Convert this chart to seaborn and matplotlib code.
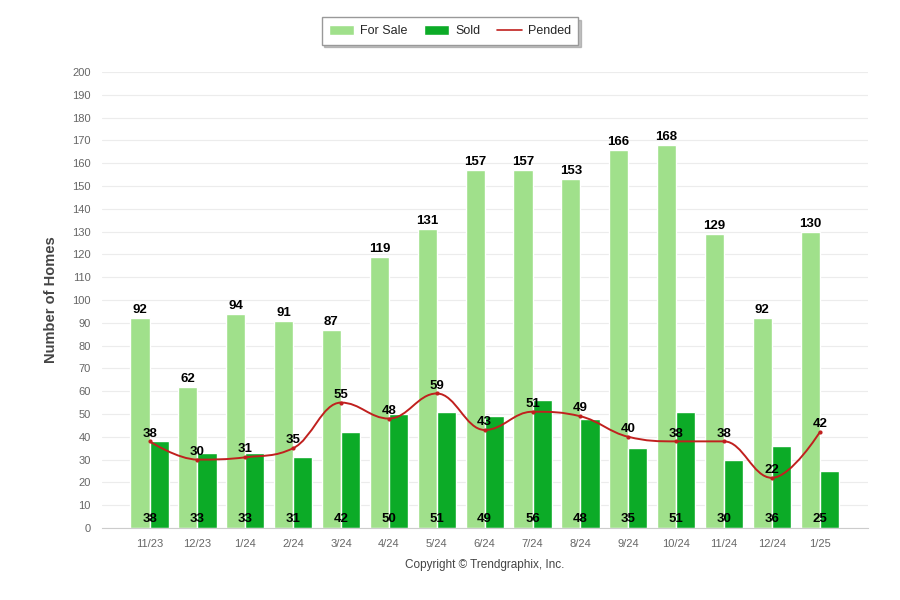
import numpy as np
import pandas as pd
import seaborn as sns
import matplotlib.pyplot as plt
from matplotlib.path import Path
from matplotlib.patches import PathPatch
from matplotlib.lines import Line2D
from matplotlib.patches import Patch

months = ["11/23", "12/23", "1/24", "2/24", "3/24", "4/24", "5/24", "6/24",
          "7/24", "8/24", "9/24", "10/24", "11/24", "12/24", "1/25"]
for_sale = [92, 62, 94, 91, 87, 119, 131, 157, 157, 153, 166, 168, 129, 92, 130]
sold = [38, 33, 33, 31, 42, 50, 51, 49, 56, 48, 35, 51, 30, 36, 25]
pended = [38, 30, 31, 35, 55, 48, 59, 43, 51, 49, 40, 38, 38, 22, 42]

C_SALE = "#a0e08b"
C_SOLD = "#0cab27"
C_PEND = "#c0201e"


def spline_path(xs, ys, smoothing=1.5):
    # bezier spline through the points (same idea as a "spline" series)
    n = len(xs)
    left = [(xs[i], ys[i]) for i in range(n)]
    right = [(xs[i], ys[i]) for i in range(n)]
    d = smoothing + 1
    for i in range(1, n - 1):
        x, y = xs[i], ys[i]
        lx, ly, nx, ny = xs[i - 1], ys[i - 1], xs[i + 1], ys[i + 1]
        lcx, lcy = (smoothing * x + lx) / d, (smoothing * y + ly) / d
        rcx, rcy = (smoothing * x + nx) / d, (smoothing * y + ny) / d
        corr = (rcy - lcy) * (rcx - x) / (rcx - lcx) + y - rcy
        lcy += corr
        rcy += corr
        if lcy > ly and lcy > y:
            lcy = max(ly, y); rcy = 2 * y - lcy
        elif lcy < ly and lcy < y:
            lcy = min(ly, y); rcy = 2 * y - lcy
        if rcy > ny and rcy > y:
            rcy = max(ny, y); lcy = 2 * y - rcy
        elif rcy < ny and rcy < y:
            rcy = min(ny, y); lcy = 2 * y - rcy
        left[i] = (lcx, lcy)
        right[i] = (rcx, rcy)
    verts = [(xs[0], ys[0])]
    codes = [Path.MOVETO]
    for i in range(1, n):
        verts += [right[i - 1], left[i], (xs[i], ys[i])]
        codes += [Path.CURVE4] * 3
    return Path(verts, codes)


sns.set_style("white")
plt.rcParams["font.family"] = ["Liberation Sans", "DejaVu Sans"]

df = pd.DataFrame({
    "Month": months * 2,
    "Homes": for_sale + sold,
    "Series": ["For Sale"] * len(months) + ["Sold"] * len(months),
})

fig = plt.figure(figsize=(9, 6), dpi=100)
ax = fig.add_axes([0.113, 0.12, 0.851, 0.76])

sns.barplot(data=df, x="Month", y="Homes", hue="Series", order=months,
            palette={"For Sale": C_SALE, "Sold": C_SOLD}, width=0.8,
            saturation=1, legend=False, ax=ax)

xs = np.arange(len(months))
ax.add_patch(PathPatch(spline_path(xs, pended), facecolor="none",
                       edgecolor=C_PEND, lw=1.4, zorder=4))
ax.plot(xs, pended, ls="none", marker="o", ms=2.0, color=C_PEND, zorder=5)

lab = dict(ha="center", fontsize=9.5, fontweight="bold", color="black", zorder=6)
for i in range(len(months)):
    ax.text(i - 0.2, for_sale[i] + 0.8, str(for_sale[i]), va="bottom", **lab)
    ax.text(i, 1.5, str(sold[i]), va="bottom", **lab)
    ax.text(i, pended[i] + 0.8, str(pended[i]), va="bottom", **lab)

ax.set_xlim(-1, 15)
ax.set_ylim(0, 200)
ax.set_yticks(range(0, 201, 10))
ax.yaxis.grid(True, color="#ececec", lw=0.8)
ax.set_axisbelow(True)
for s in ["top", "right", "left"]:
    ax.spines[s].set_visible(False)
ax.spines["bottom"].set_color("#cccccc")
ax.tick_params(axis="y", length=0, labelsize=8, labelcolor="#666666", pad=8)
ax.tick_params(axis="x", length=0, labelsize=8, labelcolor="#666666", pad=8)
ax.set_xlabel("")
ax.set_ylabel("Number of Homes", fontsize=10.5, color="#444444",
              fontweight="bold", labelpad=10)

handles = [Patch(facecolor=C_SALE, label="For Sale"),
           Patch(facecolor=C_SOLD, label="Sold"),
           Line2D([], [], color=C_PEND, lw=1.2, label="Pended")]
leg = fig.legend(handles=handles, loc="center", bbox_to_anchor=(0.5, 0.948),
                 ncol=3, frameon=True, fontsize=9, handlelength=2.0,
                 handleheight=0.9, handletextpad=0.5, columnspacing=1.3,
                 borderpad=0.6, fancybox=False,
                 shadow={"ox": 1.5, "oy": -1.5, "color": "#888888", "alpha": 0.5})
leg.get_frame().set_edgecolor("#999999")

fig.text(0.538, 0.053, "Copyright © Trendgraphix, Inc.", ha="center",
         fontsize=8.5, color="#444444")

fig.savefig("out.png", dpi=100, facecolor="white")
